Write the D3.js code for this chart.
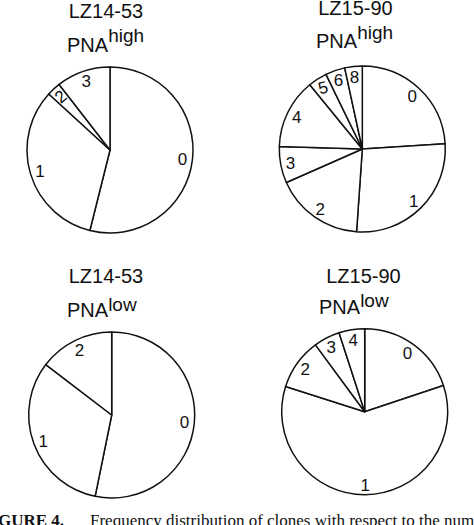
<!DOCTYPE html>
<html>
<head>
<meta charset="utf-8">
<script src="https://cdn.jsdelivr.net/npm/d3@7"></script>
<style>
  html, body { margin: 0; padding: 0; background: #fff; }
  svg { display: block; }
</style>
</head>
<body>
<svg id="chart" width="474" height="525"></svg>
<script>
// ---- Data (percent of clones) ----
const panelClones = ["LZ14-53", "LZ15-90", "LZ14-53", "LZ15-90"];
const panelPNA = ["high", "high", "low", "low"];

const categoriesA = ["0", "1", "2", "3"];
const valuesA = [53.9, 32.9, 2.7, 10.5];

const categoriesB = ["0", "1", "2", "3", "4", "5", "6", "8"];
const valuesB = [24.0, 27.1, 17.3, 7.1, 13.6, 3.7, 3.8, 3.4];

const categoriesC = ["0", "1", "2"];
const valuesC = [53.2, 32.2, 14.6];

const categoriesD = ["0", "1", "2", "3", "4"];
const valuesD = [19.9, 60.0, 10.0, 5.1, 5.0];

const captionBold = "FIGURE 4.";
const captionText = "Frequency distribution of clones with respect to the number of mutations";

// ---- Layout / style ----
const svg = d3.select("#chart");
const R = 83;
const layout = [
  { cx: 110,   cy: 150,   tx: 106,   t1: 18,  px: 67,  p2: 51.5, sup: 41.5 },
  { cx: 362.3, cy: 149,   tx: 355.5, t1: 15,  px: 316, p2: 48.3, sup: 39 },
  { cx: 111.7, cy: 415,   tx: 106,   t1: 283, px: 67,  p2: 316.5, sup: 310.5 },
  { cx: 364.7, cy: 411.7, tx: 363.5, t1: 283, px: 319, p2: 313.5, sup: 307 }
];
const labelRot = [{ "2": -40 }, { "5": -15 }, {}, {}];

const panels = [
  { cats: categoriesA, vals: valuesA },
  { cats: categoriesB, vals: valuesB },
  { cats: categoriesC, vals: valuesC },
  { cats: categoriesD, vals: valuesD }
];

const pie = d3.pie().sort(null).startAngle(0).endAngle(2 * Math.PI).value(d => d.v);
const arc = d3.arc().innerRadius(0).outerRadius(R);
const labelArc = d3.arc().innerRadius(R * 0.88).outerRadius(R * 0.88);
const sansFont = "'Liberation Sans', Arial, Helvetica, sans-serif";

panels.forEach((p, i) => {
  const L = layout[i];
  const data = p.cats.map((c, k) => ({ c, v: p.vals[k] }));
  const arcs = pie(data);

  const g = svg.append("g").attr("transform", `translate(${L.cx},${L.cy})`);
  g.selectAll("path.slice")
    .data(arcs)
    .join("path")
    .attr("class", "slice")
    .attr("d", arc)
    .attr("fill", "#fff")
    .attr("stroke", "#111")
    .attr("stroke-width", 1.5)
    .attr("stroke-linejoin", "round");

  g.selectAll("text.lbl")
    .data(arcs)
    .join("text")
    .attr("class", "lbl")
    .attr("transform", d => {
      const [x, y] = labelArc.centroid(d);
      const r = labelRot[i][d.data.c] || 0;
      return `translate(${x},${y}) rotate(${r})`;
    })
    .attr("text-anchor", "middle")
    .attr("dy", "0.36em")
    .attr("font-family", sansFont)
    .attr("font-size", 17)
    .attr("fill", "#111")
    .text(d => d.data.c);

  // titles
  svg.append("text")
    .attr("x", L.tx).attr("y", L.t1)
    .attr("text-anchor", "middle")
    .attr("font-family", sansFont)
    .attr("font-size", 20)
    .attr("fill", "#111")
    .text(panelClones[i]);

  const t2 = svg.append("text")
    .attr("x", L.px).attr("y", L.p2)
    .attr("font-family", sansFont)
    .attr("font-size", 20)
    .attr("fill", "#111");
  t2.append("tspan").text("PNA");
  t2.append("tspan")
    .attr("dy", L.sup - L.p2)
    .attr("font-size", 19)
    .text(panelPNA[i]);
});

// caption (cut by the image edges, as in the reference)
const cap = svg.append("text")
  .attr("x", -19).attr("y", 526)
  .attr("font-family", "'Liberation Serif', 'Times New Roman', serif")
  .attr("font-size", 17)
  .attr("fill", "#111");
cap.append("tspan").attr("font-weight", "bold").text(captionBold);
cap.append("tspan").attr("x", 90).text(captionText);
</script>
</body>
</html>
